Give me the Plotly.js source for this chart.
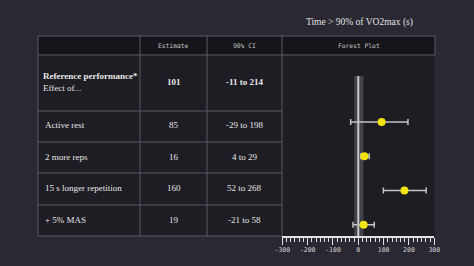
<!DOCTYPE html>
<html>
<head>
<meta charset="utf-8">
<script src="https://cdn.plot.ly/plotly-3.0.1.min.js"></script>
<style>html,body{margin:0;padding:0;background:#2a2933;}#chart{width:474px;height:266px;}</style>
</head>
<body>
<div id="chart"></div>
<script>
// ---- data ----
var headers = ["Estimate", "90% CI", "Forest Plot"];
var refLabel = "Reference performance*";
var refSub = "Effect of...";
var refEstimate = "101";
var refCI = "-11 to 214";
var rowLabels = ["Active rest", "2 more reps", "15 s longer repetition", "+ 5% MAS"];
var rowEstimates = ["85", "16", "160", "19"];
var rowCI = ["-29 to 198", "4 to 29", "52 to 268", "-21 to 58"];
// values as drawn in the forest plot
var plotEst = [92, 24, 182, 21];
var plotLow = [-30, 10, 99, -21];
var plotHigh = [196, 43, 268, 63];
var xTicks = [-300, -200, -100, 0, 100, 200, 300];
var refBand = [-16, 20];

// ---- geometry helpers (pixel -> paper) ----
var W = 474, H = 266;
function px(x){ return x / W; }
function py(y){ return 1 - y / H; }

var colX = [38, 140, 207, 282, 435];
var rowY = [36, 55, 111, 142, 173, 205, 236];
var gridCol = '#5c5b63';
var textCol = '#e6e6e6';
var serif = 'Liberation Serif, Times New Roman, serif';
var mono = 'DejaVu Sans Mono, Liberation Mono, monospace';

var shapes = [];
// header background
shapes.push({type:'rect', xref:'paper', yref:'paper', x0:px(colX[0]), x1:px(colX[4]), y0:py(rowY[1]), y1:py(rowY[0]), fillcolor:'#151419', line:{width:0}, layer:'below'});
// body background
shapes.push({type:'rect', xref:'paper', yref:'paper', x0:px(colX[0]), x1:px(colX[4]), y0:py(rowY[6]), y1:py(rowY[1]), fillcolor:'#1e1d23', line:{width:0}, layer:'below'});
// reference band + zero line
shapes.push({type:'rect', xref:'x', yref:'paper', x0:refBand[0], x1:refBand[1], y0:py(236), y1:py(76), fillcolor:'rgba(140,140,150,0.35)', line:{width:0}, layer:'below'});
shapes.push({type:'line', xref:'x', yref:'paper', x0:0, x1:0, y0:py(236), y1:py(76), line:{color:'#c8c8c8', width:2}, layer:'below'});
// horizontal lines
shapes.push({type:'line', xref:'paper', yref:'paper', x0:px(colX[0]), x1:px(colX[4]), y0:py(rowY[0]), y1:py(rowY[0]), line:{color:gridCol, width:1}});
shapes.push({type:'line', xref:'paper', yref:'paper', x0:px(colX[0]), x1:px(colX[4]), y0:py(rowY[1]), y1:py(rowY[1]), line:{color:gridCol, width:1}});
for (var i = 2; i < rowY.length; i++) {
  shapes.push({type:'line', xref:'paper', yref:'paper', x0:px(colX[0]), x1:px(colX[3]), y0:py(rowY[i]), y1:py(rowY[i]), line:{color:gridCol, width:1}});
}
// vertical lines
for (var j = 0; j < colX.length; j++) {
  var yEnd = (j === 4) ? rowY[1] : rowY[6];
  shapes.push({type:'line', xref:'paper', yref:'paper', x0:px(colX[j]), x1:px(colX[j]), y0:py(yEnd), y1:py(rowY[0]), line:{color:gridCol, width:1}});
}

var annotations = [];
function ann(text, x, y, opts){
  var a = {text:text, xref:'paper', yref:'paper', x:px(x), y:py(y), showarrow:false,
           xanchor:opts.xanchor || 'center', yanchor:'middle',
           font:{family:opts.family || serif, size:opts.size || 9, color:opts.color || textCol}};
  annotations.push(a);
}
// title
ann("Time &gt; 90% of VO2max (s)", 359, 23, {size:9.5, color:'#e0e0e0'});
// headers
var headerX = [173.5, 244.5, 358.5];
for (var h = 0; h < headers.length; h++) ann(headers[h], headerX[h], 45.5, {family:mono, size:6.3, color:'#c8c8c8'});
// reference row
ann("<b>" + refLabel + "</b>", 41, 76, {xanchor:'left', size:9});
ann(refSub, 41, 88, {xanchor:'left', size:9});
ann("<b>" + refEstimate + "</b>", 173.5, 82, {size:9});
ann("<b>" + refCI + "</b>", 244.5, 82, {size:9});
// rows
for (var r = 0; r < rowLabels.length; r++) {
  var cy = (rowY[r+2] + rowY[r+3]) / 2 - 1;
  ann(rowLabels[r], 43, cy, {xanchor:'left', size:9});
  ann(rowEstimates[r], 173.5, cy, {size:9});
  ann(rowCI[r], 244.5, cy, {size:9});
}

var trace = {
  type:'scatter', mode:'markers',
  x: plotEst, y: rowLabels,
  error_x: {type:'data', symmetric:false,
            array: plotHigh.map(function(v,i){return v - plotEst[i];}),
            arrayminus: plotEst.map(function(v,i){return v - plotLow[i];}),
            color:'#c4c4c4', thickness:1.5, width:3},
  marker:{color:'#f2e40c', size:8, line:{width:0}},
  hoverinfo:'skip', showlegend:false, cliponaxis:false
};

var layout = {
  width:W, height:H,
  margin:{l:0, r:0, t:0, b:0},
  paper_bgcolor:'#2a2933', plot_bgcolor:'rgba(0,0,0,0)',
  showlegend:false,
  xaxis:{domain:[282.3/W, 434.3/W], range:[-300, 300], tickvals:xTicks, ticktext:xTicks.map(String),
         showgrid:false, zeroline:false, showline:true, linecolor:'#e0e0e0', linewidth:1.5,
         ticks:'outside', ticklen:7, tickwidth:1, tickcolor:'#e0e0e0',
         minor:{dtick:100/6, tick0:-300, ticks:'outside', ticklen:4, tickwidth:1, tickcolor:'#e0e0e0', showgrid:false},
         tickfont:{family:mono, size:6.5, color:'#d4d4d4'}, anchor:'y', fixedrange:true},
  yaxis:{domain:[py(236), py(55)], type:'category', categoryorder:'array', categoryarray:rowLabels,
         range:[3.33, -1.957], showgrid:false, zeroline:false, showline:false, showticklabels:false, ticks:'', fixedrange:true},
  shapes:shapes, annotations:annotations
};

Plotly.newPlot('chart', [trace], layout, {displayModeBar:false, staticPlot:true});
</script>
</body>
</html>
